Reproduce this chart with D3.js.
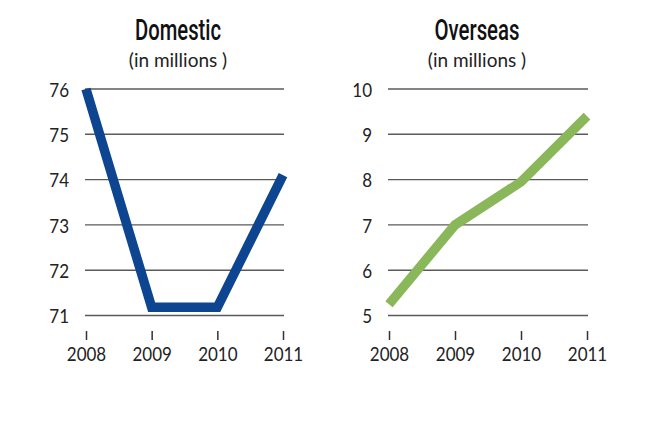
<!DOCTYPE html>
<html>
<head>
<meta charset="utf-8">
<script src="https://cdn.jsdelivr.net/npm/d3@7"></script>
<style>
  body { margin: 0; background: #fff; }
  .title { font-family: Roboto, "DejaVu Sans", sans-serif; font-weight: 500; font-size: 30px; fill: #111; }
  .sub { font-family: Lato, "Noto Sans", sans-serif; font-weight: 400; font-size: 19px; fill: #222; }
  .tick text { font-family: Lato, "Noto Sans", sans-serif; font-size: 20px; fill: #222; }
</style>
</head>
<body>
<svg width="650" height="435"></svg>
<script>
//data
var years = ["2008", "2009", "2010", "2011"];
var domestic = [76, 71.18, 71.18, 74.1];
var overseas = [5.25, 7.0, 7.95, 9.4];
var domesticTicks = [71, 72, 73, 74, 75, 76];
var overseasTicks = [5, 6, 7, 8, 9, 10];

//layout conf.
var svg = d3.select("svg");
var top0 = 89, bottom0 = 315.5;

var panels = [
  {title: "Domestic", values: domestic, ticks: domesticTicks, x0: 85, x1: 284, color: "#0d4591", cx: 178, tw: 86},
  {title: "Overseas", values: overseas, ticks: overseasTicks, x0: 388, x1: 588, color: "#8bb75b", cx: 477, tw: 85}
];

panels.forEach(function(p) {
  var x = d3.scalePoint().domain(years).range([p.x0 + 1, p.x1 - 1]);
  var y = d3.scaleLinear()
    .domain(d3.extent(p.ticks))
    .range([bottom0, top0]);

  var g = svg.append("g");

  // gridlines
  g.selectAll(".grid")
    .data(p.ticks)
    .enter()
    .append("line")
    .attr("x1", p.x0).attr("x2", p.x1)
    .attr("y1", function(d){ return y(d); })
    .attr("y2", function(d){ return y(d); })
    .attr("stroke", "#5a5a5a")
    .attr("stroke-width", 1.4);

  // y labels
  var yAxis = g.append("g")
    .attr("transform", "translate(" + (p.x0 - 16) + ",0)")
    .call(d3.axisLeft(y).tickValues(p.ticks).tickSize(0).tickPadding(0).tickFormat(d3.format("d")));
  yAxis.select(".domain").remove();
  yAxis.selectAll("text").attr("dy", "0.36em").attr("transform", "scale(0.85,1)");

  // x axis
  var xAxis = g.append("g")
    .attr("transform", "translate(0,331)")
    .call(d3.axisBottom(x).tickSize(9).tickPadding(4));
  xAxis.select(".domain").remove();
  xAxis.selectAll(".tick line").attr("stroke", "#333").attr("stroke-width", 1.5);
  xAxis.selectAll("text").attr("dy", "0.85em").attr("transform", "scale(0.85,1)");

  // line
  var line = d3.line()
    .x(function(d, i){ return x(years[i]); })
    .y(function(d){ return y(d); });

  g.append("path")
    .datum(p.values)
    .attr("d", line)
    .attr("fill", "none")
    .attr("stroke", p.color)
    .attr("stroke-width", 9.5)
    .attr("stroke-linejoin", "miter")
    .attr("stroke-linecap", "butt");

  // titles
  g.append("text")
    .attr("class", "title")
    .attr("x", p.cx).attr("y", 40)
    .attr("text-anchor", "middle")
    .attr("textLength", p.tw)
    .attr("lengthAdjust", "spacingAndGlyphs")
    .text(p.title);

  g.append("text")
    .attr("class", "sub")
    .attr("x", p.cx).attr("y", 67)
    .attr("text-anchor", "middle")
    .text("(in millions )");
});
</script>
</body>
</html>
